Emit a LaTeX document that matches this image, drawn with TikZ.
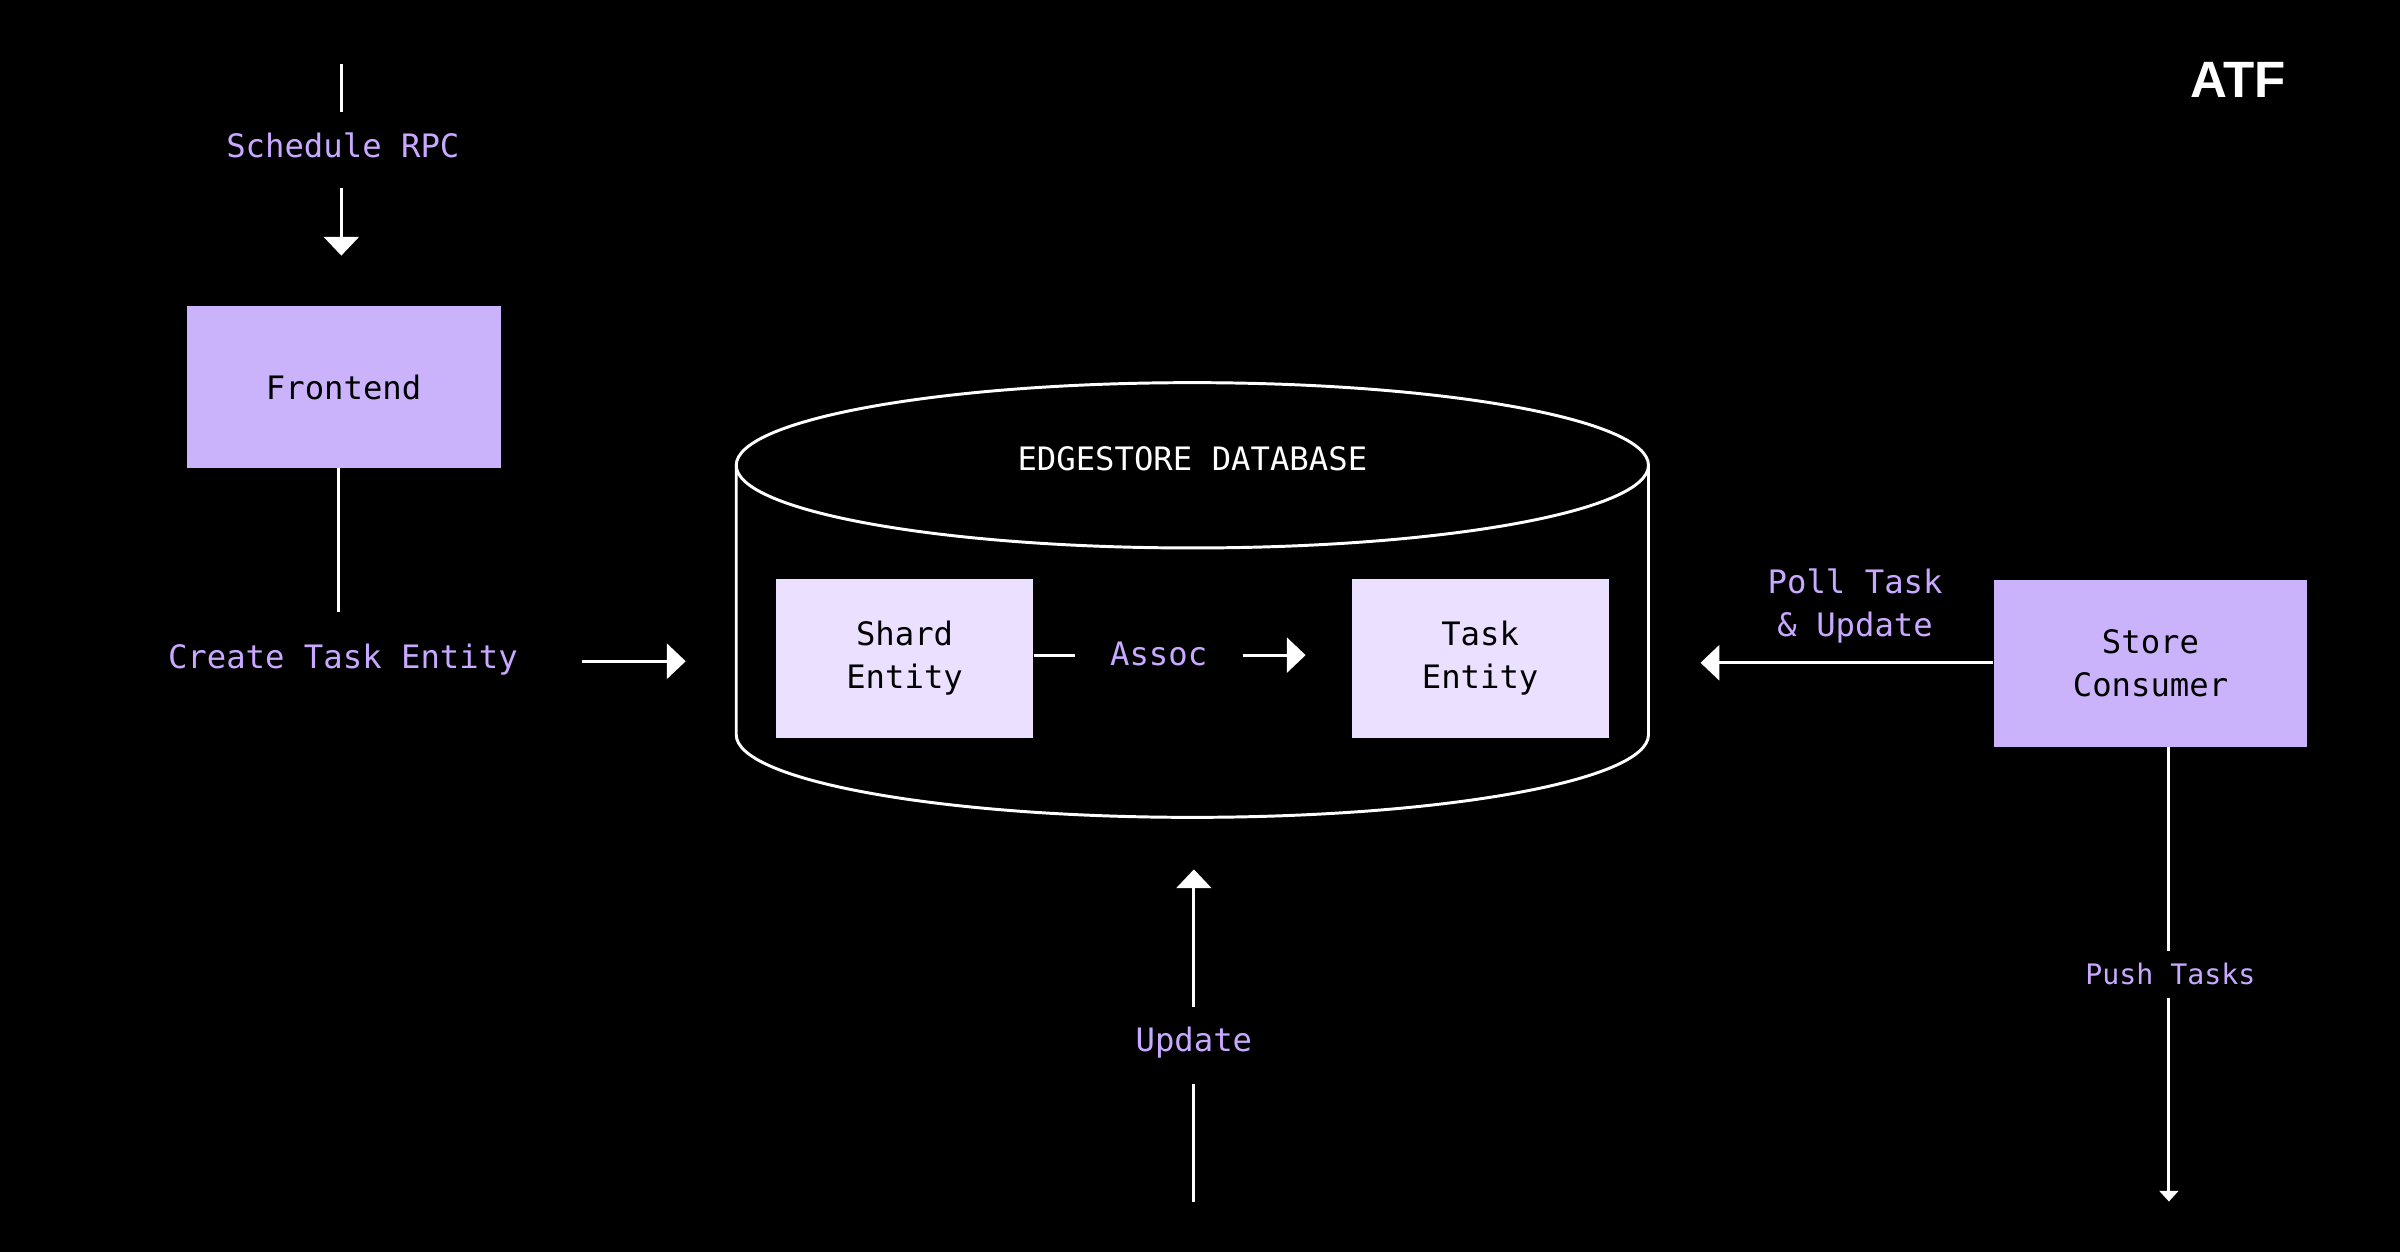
\documentclass[tikz,border=0pt]{standalone}
\usepackage{fontspec}
\setmainfont{DejaVu Sans Mono}
\newfontfamily\atffont{Liberation Sans}
\usetikzlibrary{arrows.meta}
\definecolor{lav}{HTML}{CBB3FC}
\definecolor{lavl}{HTML}{EBE0FF}
\definecolor{lbl}{HTML}{C9A9FF}
\begin{document}
\begin{tikzpicture}[x=0.02cm,y=-0.02cm,
  ln/.style={draw=white,line width=1.1pt},
  arr/.style={ln,-{Triangle[width=13pt,length=7pt]}},
  lab/.style={text=lbl,font=\fontsize{12}{16}\selectfont,align=center},
  box/.style={draw=none,minimum width=#1,font=\fontsize{12}{16}\selectfont,text=black,align=center}]
\fill[black] (0,0) rectangle (1568,818);
\node[text=white,font=\atffont\bfseries\fontsize{19}{20}\selectfont] (atf) at (1462,52) {ATF};
% Schedule RPC
\coordinate (s0) at (223,42); \coordinate (s1) at (223,73);
\node[lab] (srpc) at (224,95) {Schedule RPC};
\coordinate (s2) at (223,123); \coordinate (s3) at (223,167);
\draw[ln] (s0)--(s1); \draw[arr] (s2)--(s3);
% Frontend
\node[box,fill=lav,minimum width=205*0.02cm,minimum height=106*0.02cm] (fe) at (224.5,253) {Frontend};
\coordinate (c0) at (221,306); \coordinate (c1) at (221,400);
\draw[ln] (c0)--(c1);
\node[lab] (cte) at (224,431) {Create Task Entity};
\coordinate (c2) at (380,432); \coordinate (c3) at (448,432);
\draw[arr] (c2)--(c3);
% cylinder
\draw[ln] (779,304) ellipse (298 and 54);
\draw[ln] (481,304) -- (481,480) arc[start angle=180,end angle=360,x radius=298,y radius=-54] -- (1077,304);
\node[text=white,font=\fontsize{12}{15}\selectfont] (edb) at (779,300) {EDGESTORE DATABASE};
\node[box,fill=lavl,minimum width=168*0.02cm,minimum height=104*0.02cm] (shard) at (591,430) {Shard\\Entity};
\node[box,fill=lavl,minimum width=168*0.02cm,minimum height=104*0.02cm] (task) at (967,430) {Task\\Entity};
\node[lab] (assoc) at (757,427) {Assoc};
\coordinate (a0) at (702,428);
\draw[ln] (shard.east|-a0)--(a0);
\coordinate (a1) at (812,428); \coordinate (a2) at (853,428);
\draw[arr] (a1)--(a2);
% Store consumer
\node[box,fill=lav,minimum width=205*0.02cm,minimum height=109*0.02cm] (sc) at (1405,433.5) {Store\\Consumer};
\node[lab] (poll) at (1212,396) {Poll Task\\\& Update};
\coordinate (p1) at (1111,433);
\draw[arr] (sc.west|-p1)--(p1);
\coordinate (q0) at (1417,621);
\draw[ln] (sc.south-|q0)--(q0);
\node[lab,font=\fontsize{10.5}{13}\selectfont] (push) at (1418,636) {Push Tasks};
\coordinate (q1) at (1417,652); \coordinate (q2) at (1417,785);
\draw[ln,-{Triangle[width=7pt,length=4pt]}] (q1)--(q2);
% Update
\coordinate (u0) at (780,658); \coordinate (u1) at (780,568);
\draw[arr] (u0)--(u1);
\node[lab] (upd) at (780,681) {Update};
\coordinate (u2) at (780,708); \coordinate (u3) at (780,785);
\draw[ln] (u2)--(u3);
\end{tikzpicture}
\end{document}
